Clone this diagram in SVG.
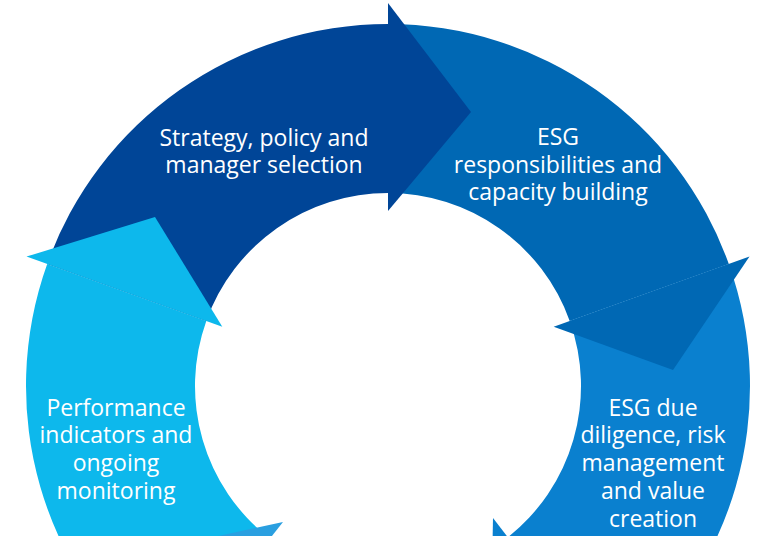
<svg xmlns="http://www.w3.org/2000/svg" width="762" height="536" viewBox="0 0 762 536">
<style>
.lbl{font-family:"Open Sans","Liberation Sans",sans-serif;font-size:23px;fill:#ffffff;text-anchor:middle}
.c1{fill:#004597}
.c2{fill:#0068b4}
.c3{fill:#0a80cf}
.c4{fill:#2a9fe0}
.c5{fill:#0db8ec}
</style>
<rect width="762" height="536" fill="#ffffff"/>
<g id="node-strategy">
<path class="c1" d="M47.2 264 A362 362 0 0 1 388 24 L388 193 A193 193 0 0 0 206.3 320.9 Z"/>
<text class="lbl" x="264" y="146">Strategy, policy and<tspan x="264" dy="27">manager selection</tspan></text>
</g>
<g id="node-responsibilities">
<path class="c2" d="M388 24 A362 362 0 0 1 728.8 264 L569.7 320.9 A193 193 0 0 0 388 193 Z"/>
<text class="lbl" x="558" y="145">ESG<tspan x="558" dy="28">responsibilities and</tspan><tspan x="558" dy="27">capacity building</tspan></text>
</g>
<g id="node-due-diligence">
<path class="c3" d="M728.8 264 A362 362 0 0 1 610.9 671.3 L506.8 538.1 A193 193 0 0 0 569.7 320.9 Z"/>
</g>
<g id="node-bottom">
<path class="c4" d="M610.9 671.3 A362 362 0 0 1 165.1 671.3 L269.2 538.1 A193 193 0 0 0 506.8 538.1 Z"/>
</g>
<g id="node-performance">
<path class="c5" d="M165.1 671.3 A362 362 0 0 1 47.2 264 L206.3 320.9 A193 193 0 0 0 269.2 538.1 Z"/>
</g>
<g id="connectors">
<polygon class="c1" points="388,3 471,112 388,211"/>
<polygon class="c2" points="749.5,256.6 673,370 553.7,326.7"/>
<polygon class="c3" points="624,688 490.5,653 493,518"/>
<polygon class="c4" points="152,688 154,550 283,522"/>
<polygon class="c5" points="26.5,256.6 155,217 222.3,326.7"/>
</g>
<g id="labels">
<text class="lbl" x="116" y="416">Performance<tspan x="116" dy="27">indicators and</tspan><tspan x="116" dy="28">ongoing</tspan><tspan x="116" dy="28">monitoring</tspan></text>
<text class="lbl" x="653" y="416">ESG due<tspan x="653" dy="27">diligence, risk</tspan><tspan x="653" dy="28">management</tspan><tspan x="653" dy="28">and value</tspan><tspan x="653" dy="28">creation</tspan></text>
</g>
</svg>
